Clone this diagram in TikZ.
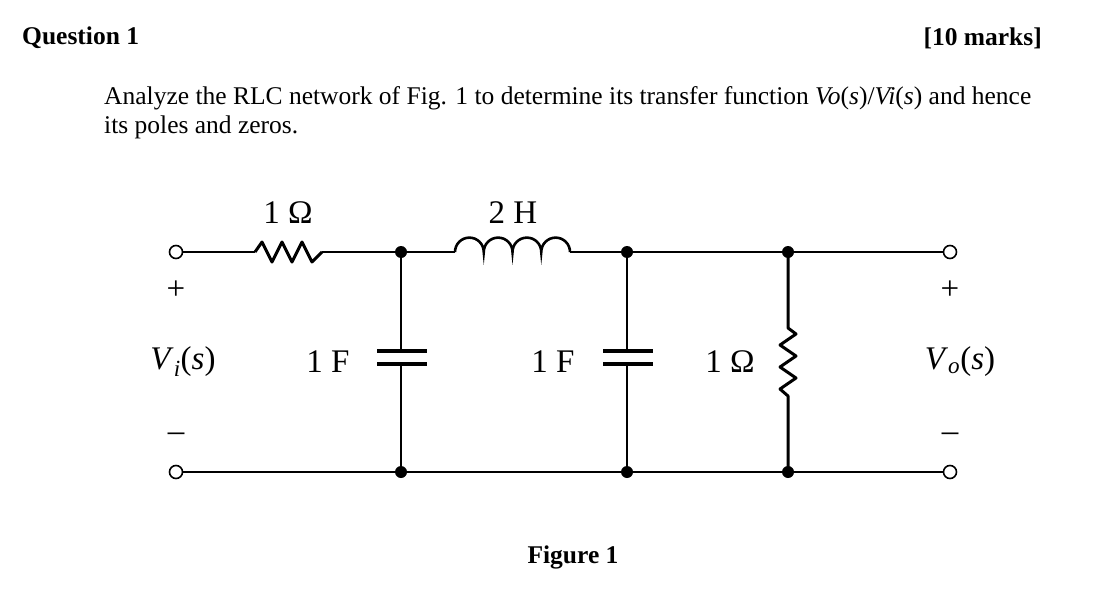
\documentclass[tikz,border=0pt]{standalone}
\usepackage{fontspec}
\setmainfont{Liberation Serif}
\begin{document}
\begin{tikzpicture}[x=1pt,y=-1pt,
  w/.style={line width=2.2pt},
  dot/.style={circle,fill=black,inner sep=0pt,minimum size=12pt},
  term/.style={circle,draw,line width=1.6pt,fill=white,inner sep=0pt,minimum size=13pt},
  lbl/.style={font=\fontsize{33}{36}\selectfont,inner sep=0pt},
  txt/.style={font=\fontsize{25.5}{28}\selectfont,inner sep=0pt,anchor=west}]
\useasboundingbox (0,0) rectangle (1099,610);
\node[txt,font=\bfseries\fontsize{25.5}{28}\selectfont] (q) at (22,38) {Question 1};
\node[txt,anchor=east,font=\bfseries\fontsize{25.5}{28}\selectfont] (m) at (1042,38) {[10 marks]};
\node[txt] (l1) at (104,98) {Analyze the RLC network of Fig. 1 to determine its transfer function \textit{Vo}(\textit{s})/\textit{Vi}(\textit{s}) and hence};
\node[txt] (l2) at (104,127) {its poles and zeros.};
\node[txt,anchor=center,font=\bfseries\fontsize{25.5}{28}\selectfont] (fig) at (573,557) {Figure 1};
% coordinates
\coordinate (r1a) at (255,252); \coordinate (r1b) at (322,252);
\coordinate (la) at (455,252); \coordinate (lb) at (570,252);
\coordinate (c1t) at (401,351); \coordinate (c1b) at (401,364);
\coordinate (c2t) at (627,351); \coordinate (c2b) at (627,364);
\coordinate (r2a) at (788,328); \coordinate (r2b) at (788,396);
% wires
\draw[w] (176,252) -- (r1a);
\draw[line width=3pt,line join=round] (r1a) -- (262,242) -- (272,262) -- (282,242) -- (292,262) -- (302,242) -- (312,262) -- (r1b);
\draw[w] (r1b) -- (la);
\draw[line width=2.6pt] (la) arc[start angle=180,end angle=360,radius=14.375] arc[start angle=180,end angle=360,radius=14.375] arc[start angle=180,end angle=360,radius=14.375] arc[start angle=180,end angle=360,radius=14.375];
\draw[w] (lb) -- (950,252);
\draw[w] (176,472) -- (950,472);
\draw[w] (401,252) -- (c1t) (c1b) -- (401,472);
\draw[line width=3.5pt] (377,351) -- (427,351) (377,364) -- (427,364);
\draw[w] (627,252) -- (c2t) (c2b) -- (627,472);
\draw[line width=3.5pt] (603,351) -- (653,351) (603,364) -- (653,364);
\draw[line width=3pt,line join=round] (788,252) -- (r2a) -- (796,334) -- (780,345) -- (796,356) -- (780,367) -- (796,378) -- (780,389) -- (r2b) -- (788,472);
\node[dot] (d1) at (401,252) {}; \node[dot] (d2) at (627,252) {}; \node[dot] (d3) at (788,252) {};
\node[dot] (d4) at (401,472) {}; \node[dot] (d5) at (627,472) {}; \node[dot] (d6) at (788,472) {};
\node[term] (t1) at (176,252) {}; \node[term] (t2) at (176,472) {};
\node[term] (t3) at (950,252) {}; \node[term] (t4) at (950,472) {};
% labels
\node[lbl] (a1) at (288,213) {1 Ω};
\node[lbl] (a2) at (513,213) {2 H};
\node[lbl] (a3) at (176,290) {+};
\node[lbl] (a4) at (183,362) {\textit{V}\textsubscript{\textit{i}}(\textit{s})};
\node[lbl] (a5) at (176,437) {–};
\node[lbl] (a6) at (328,362) {1 F};
\node[lbl] (a7) at (553,362) {1 F};
\node[lbl] (a8) at (730,362) {1 Ω};
\node[lbl] (a9) at (950,290) {+};
\node[lbl] (a10) at (960,362) {\textit{V}\textsubscript{\textit{o}}(\textit{s})};
\node[lbl] (a11) at (950,437) {–};
\end{tikzpicture}
\end{document}
